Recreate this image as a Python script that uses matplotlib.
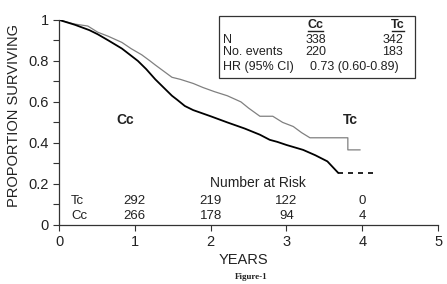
import matplotlib
matplotlib.use('Agg')
from matplotlib import pyplot as plt
from matplotlib.patches import Rectangle

plt.rcParams['font.family'] = ['Liberation Sans', 'DejaVu Sans']

# Kaplan-Meier curves
tc_years = [0, 0.1, 0.2, 0.38, 0.51, 0.65, 0.83, 0.95, 1.09, 1.2, 1.27, 1.38, 1.49, 1.6, 1.77, 1.9,
            2.05, 2.22, 2.4, 2.5, 2.65, 2.82, 2.95, 3.09, 3.2, 3.31, 3.81, 3.81, 3.97]
tc_surv = [1.0, 0.99, 0.98, 0.97, 0.94, 0.92, 0.89, 0.86, 0.83, 0.80, 0.78, 0.75, 0.72, 0.71, 0.69, 0.67,
           0.65, 0.63, 0.60, 0.57, 0.53, 0.53, 0.50, 0.48, 0.45, 0.425, 0.425, 0.366, 0.366]
cc_years = [0, 0.21, 0.4, 0.51, 0.65, 0.83, 1.04, 1.15, 1.27, 1.38, 1.49, 1.56, 1.66, 1.77, 2.0,
            2.22, 2.45, 2.65, 2.78, 2.88, 3.0, 3.22, 3.38, 3.54, 3.68]
cc_surv = [1.0, 0.976, 0.95, 0.93, 0.90, 0.86, 0.80, 0.76, 0.71, 0.67, 0.63, 0.61, 0.58, 0.56, 0.53,
           0.50, 0.47, 0.44, 0.415, 0.405, 0.39, 0.366, 0.34, 0.31, 0.255]
cc_tail_years = [3.68, 4.14]
cc_tail_surv = [0.255, 0.255]

# number at risk
risk_years = [1, 2, 3, 4]
risk_tc = ['292', '219', '122', '0']
risk_cc = ['266', '178', '94', '4']

# summary table
table_rows = ['N', 'No. events', 'HR (95% CI)']
n_cc, n_tc = '338', '342'
ev_cc, ev_tc = '220', '183'
hr_text = '0.73 (0.60-0.89)'

txt = '#222222'

fig = plt.figure(figsize=(4.47, 2.84), dpi=100)
ax = fig.add_axes([0.132, 0.208, 0.848, 0.722])

ax.plot(tc_years, tc_surv, color='#808080', lw=0.9)
ax.plot(cc_years, cc_surv, color='black', lw=1.3)
ax.plot(cc_tail_years, cc_tail_surv, color='black', lw=1.2, ls=(0, (3, 3)))

ax.set_xlim(0, 5)
ax.set_ylim(0, 1)
ax.spines['top'].set_visible(False)
ax.spines['right'].set_visible(False)
for s in ['left', 'bottom']:
    ax.spines[s].set_color('#333333')
    ax.spines[s].set_linewidth(0.9)
ax.set_xticks([0, 1, 2, 3, 4, 5])
ax.set_yticks([0, 0.2, 0.4, 0.6, 0.8, 1])
ax.set_yticklabels(['0', '0.2', '0.4', '0.6', '0.8', '1'])
ax.set_yticks([0.1, 0.3, 0.5, 0.7, 0.9], minor=True)
ax.tick_params(axis='both', labelsize=10.5, colors='#333333', labelcolor=txt, length=4, width=0.8)
ax.tick_params(axis='y', which='minor', length=4, width=0.8, colors='#333333')

# curve labels
ax.text(0.87, 0.51, 'Cc', fontsize=10, fontweight='bold', color=txt, ha='center', va='center')
ax.text(3.84, 0.51, 'Tc', fontsize=10, fontweight='bold', color=txt, ha='center', va='center')

# number at risk block
ax.text(2.63, 0.185, 'Number at Risk', fontsize=10, color=txt, ha='center', va='baseline')
ax.text(0.16, 0.102, 'Tc', fontsize=9.5, color=txt, ha='left', va='baseline')
ax.text(0.16, 0.029, 'Cc', fontsize=9.5, color=txt, ha='left', va='baseline')
for x, a, b in zip(risk_years, risk_tc, risk_cc):
    ax.text(x, 0.102, a, fontsize=9.5, color=txt, ha='center', va='baseline')
    ax.text(x, 0.029, b, fontsize=9.5, color=txt, ha='center', va='baseline')

# summary table box
box = Rectangle((0.422, 0.717), 0.517, 0.303, transform=ax.transAxes, fill=False,
                edgecolor='#333333', lw=0.9, clip_on=False)
ax.add_patch(box)
ax.text(3.38, 0.960, 'Cc', fontsize=9, fontweight='bold', color=txt, ha='center', va='baseline')
ax.text(4.47, 0.960, 'Tc', fontsize=9, fontweight='bold', color=txt, ha='center', va='baseline')
ax.plot([3.28, 3.48], [0.945, 0.945], color=txt, lw=1.0, clip_on=False, zorder=5)
ax.plot([4.39, 4.55], [0.945, 0.945], color=txt, lw=1.0, clip_on=False, zorder=5)
row_y = [0.888, 0.829, 0.754]
for r, y in zip(table_rows, row_y):
    ax.text(2.16, y, r, fontsize=9, color=txt, ha='left', va='baseline')
ax.text(3.25, row_y[0], n_cc, fontsize=9, color=txt, ha='left', va='baseline')
ax.text(4.54, row_y[0], n_tc, fontsize=9, color=txt, ha='right', va='baseline')
ax.text(3.25, row_y[1], ev_cc, fontsize=9, color=txt, ha='left', va='baseline')
ax.text(4.54, row_y[1], ev_tc, fontsize=9, color=txt, ha='right', va='baseline')
ax.text(3.90, row_y[2], hr_text, fontsize=9, color=txt, ha='center', va='baseline')

fig.text(0.031, 0.595, 'PROPORTION SURVIVING', rotation=90, fontsize=10.5, color=txt,
         ha='center', va='center')
fig.text(0.545, 0.085, 'YEARS', fontsize=10.5, color=txt, ha='center', va='center')
fig.text(0.562, 0.025, 'Figure-1', fontsize=6.5, fontweight='bold', family='Liberation Serif',
         color=txt, ha='center', va='center')

fig.savefig('out.png', dpi=100)
